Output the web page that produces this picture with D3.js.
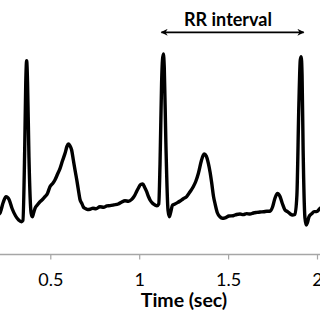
<!DOCTYPE html>
<html>
<head>
<meta charset="utf-8">
<script src="https://cdn.jsdelivr.net/npm/d3@7"></script>
<style>
  html, body { margin: 0; padding: 0; background: #fff; }
  svg { display: block; }
</style>
</head>
<body>
<div id="chart"></div>
<script>
// ECG trace, time in seconds, amplitude in mV (arbitrary baseline)
const times = [
  0.195, 0.217, 0.235, 0.251, 0.268, 0.285, 0.305, 0.322, 0.338, 0.346,
  0.356, 0.362, 0.367, 0.372, 0.380, 0.392, 0.399, 0.406, 0.414, 0.428,
  0.442, 0.456, 0.470, 0.484, 0.498, 0.512, 0.526, 0.541, 0.555, 0.569,
  0.583, 0.594, 0.601, 0.610, 0.620, 0.630, 0.639, 0.649, 0.658, 0.667,
  0.677, 0.686, 0.695, 0.709, 0.723, 0.740, 0.757, 0.779, 0.800, 0.818,
  0.836, 0.858, 0.882, 0.900, 0.920, 0.940, 0.958, 0.968, 0.976, 0.986,
  0.995, 1.008, 1.020, 1.031, 1.042, 1.052, 1.061, 1.075, 1.089, 1.100,
  1.110, 1.117, 1.126, 1.131, 1.136, 1.141, 1.150, 1.162, 1.170, 1.176,
  1.188, 1.201, 1.215, 1.230, 1.248, 1.267, 1.285, 1.304, 1.318, 1.333,
  1.350, 1.360, 1.366, 1.377, 1.389, 1.399, 1.408, 1.418, 1.426, 1.440,
  1.454, 1.468, 1.483, 1.505, 1.529, 1.548, 1.567, 1.585, 1.604, 1.623,
  1.642, 1.661, 1.680, 1.700, 1.718, 1.736, 1.750, 1.764, 1.778, 1.792,
  1.806, 1.820, 1.834, 1.848, 1.862, 1.876, 1.887, 1.898, 1.906, 1.911,
  1.916, 1.922, 1.932, 1.940, 1.946, 1.955, 1.970, 1.984, 1.998, 2.017, 2.045
];
const millivolts = [
  -0.04, -0.02, 0.05, 0.089, 0.07, 0.01, -0.04, -0.067, -0.078, -0.07,
  0.40, 0.85, 0.995, 0.85, 0.35, -0.02, -0.045, -0.02, 0.011, 0.035,
  0.055, 0.07, 0.089, 0.11, 0.155, 0.175, 0.20, 0.24, 0.278, 0.33,
  0.378, 0.425, 0.44, 0.43, 0.40, 0.33, 0.267, 0.20, 0.133, 0.07,
  0.045, 0.02, 0.011, 0.003, 0.005, 0.012, 0.008, 0.022, 0.018, 0.027,
  0.029, 0.034, 0.04, 0.052, 0.062, 0.058, 0.071, 0.085, 0.10, 0.125,
  0.145, 0.170, 0.173, 0.15, 0.122, 0.09, 0.067, 0.045, 0.033, 0.028,
  0.04, 0.30, 0.85, 1.00, 1.04, 0.95, 0.45, 0.0, -0.045, -0.02,
  0.033, 0.04, 0.049, 0.06, 0.075, 0.089, 0.12, 0.155, 0.19, 0.245,
  0.33, 0.365, 0.373, 0.36, 0.311, 0.25, 0.178, 0.09, 0.045, -0.02,
  -0.045, -0.055, -0.052, -0.040, -0.038, -0.030, -0.027, -0.031, -0.024, -0.027,
  -0.020, -0.016, -0.013, -0.012, -0.008, -0.008, 0.02, 0.08, 0.111, 0.09,
  0.04, 0.00, -0.011, -0.025, -0.033, -0.030, 0.10, 0.70, 1.00, 1.022,
  0.90, 0.40, -0.05, -0.10, -0.085, -0.045, -0.025, -0.011, -0.011, 0.011, 0.03
];

const xTicks = [0.5, 1, 1.5, 2];
const rrInterval = [1.136, 1.914];

const width = 320, height = 320;
const axisY = 254.5;
const font = "Lato, 'Open Sans', sans-serif";

const x = d3.scaleLinear().domain([0, 2]).range([-38.6, 317]);
const y = d3.scaleLinear().domain([0, 1]).range([210, 60]);

const svg = d3.select("#chart").append("svg")
  .attr("width", width)
  .attr("height", height);

// arrow marker for the RR interval
const defs = svg.append("defs");
defs.append("marker")
    .attr("id", "arrowEnd")
    .attr("viewBox", "0 -5 10 10")
    .attr("refX", 9)
    .attr("refY", 0)
    .attr("markerUnits", "userSpaceOnUse")
    .attr("markerWidth", 9)
    .attr("markerHeight", 7)
    .attr("orient", "auto-start-reverse")
  .append("path")
    .attr("d", "M0,-5 L10,0 L0,5 L3,0 Z")
    .attr("fill", "#000");

// x axis
const xAxis = svg.append("g")
  .attr("transform", `translate(0,${axisY})`)
  .call(d3.axisBottom(x).tickValues(xTicks).tickSize(5).tickPadding(14)
    .tickFormat(d3.format("")));
xAxis.select(".domain").remove();
xAxis.insert("line", ":first-child")
  .attr("x1", 0).attr("x2", width)
  .attr("stroke", "#a6a6a6").attr("stroke-width", 1.5);
xAxis.selectAll(".tick line").attr("stroke", "#a6a6a6").attr("stroke-width", 1.2);
xAxis.selectAll(".tick text")
  .attr("fill", "#000")
  .style("font-family", font)
  .style("font-size", "18px");

svg.append("text")
  .attr("x", 184)
  .attr("y", 307)
  .attr("text-anchor", "middle")
  .style("font-family", font)
  .style("font-weight", "bold")
  .style("font-size", "19.5px")
  .text("Time (sec)");

// ECG line
const pts = times.map((t, i) => [t, millivolts[i]]);
svg.append("path")
  .datum(pts)
  .attr("fill", "none")
  .attr("stroke", "#000")
  .attr("stroke-width", 3.4)
  .attr("stroke-linejoin", "round")
  .attr("d", d3.line()
    .x(d => x(d[0]))
    .y(d => y(d[1]))
    .curve(d3.curveMonotoneX));

// RR interval annotation
svg.append("line")
  .attr("x1", x(rrInterval[0]) - 2)
  .attr("x2", x(rrInterval[1]) + 2)
  .attr("y1", 32.3).attr("y2", 32.3)
  .attr("stroke", "#000")
  .attr("stroke-width", 1.8)
  .attr("marker-start", "url(#arrowEnd)")
  .attr("marker-end", "url(#arrowEnd)");

svg.append("text")
  .attr("x", 228)
  .attr("y", 26)
  .attr("text-anchor", "middle")
  .style("font-family", font)
  .style("font-weight", "bold")
  .style("font-size", "18px")
  .text("RR interval");
</script>
</body>
</html>
